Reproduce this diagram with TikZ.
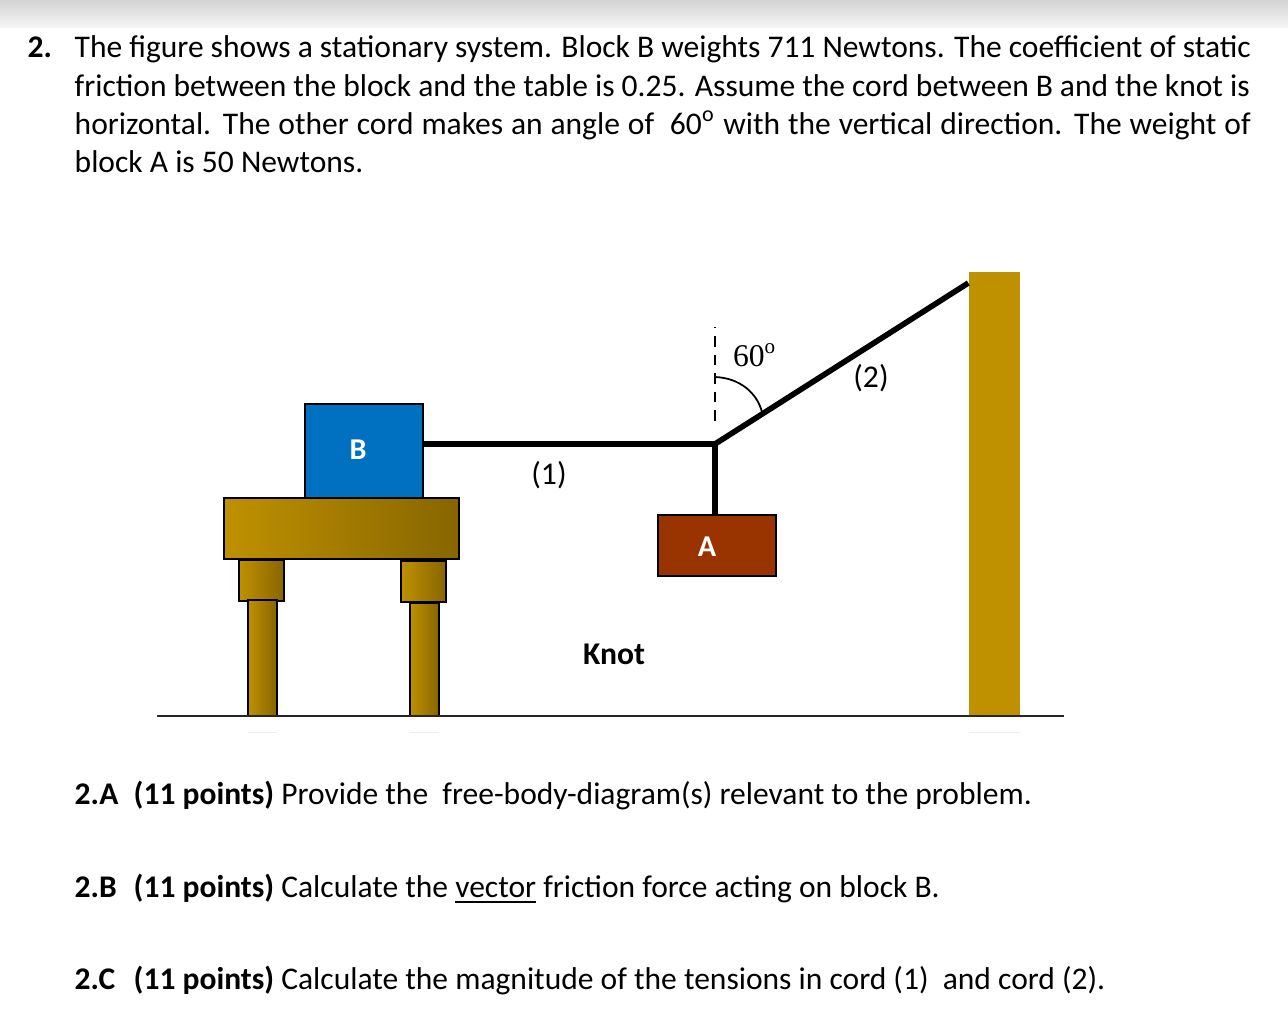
\documentclass[tikz,border=0pt]{standalone}
\usepackage{fontspec}
\setmainfont{Carlito}
\newfontfamily\anglefont{Liberation Serif}

\begin{document}
\begin{tikzpicture}[
    wood/.style={draw=black, line width=0.6pt, inner sep=0pt, left color=tab_gold, middle color=tab_mid, right color=tab_dark},
    block/.style={draw=black, line width=0.5pt, inner sep=0pt, minimum width=1.18cm},
    cord/.style={line width=1.6pt, line join=round},
    problemline/.style={anchor=base west, inner sep=0pt, font=\fontsize{8.97}{11}\selectfont},
    blocklabel/.style={inner sep=0pt, text=white, font=\fontsize{8.6}{10}\selectfont\bfseries},
    cordlabel/.style={inner sep=0pt, font=\fontsize{9}{11}\selectfont},
    ]
    \definecolor{tab_gold}{HTML}{bf9000}
    \definecolor{tab_mid}{HTML}{b08500}
    \definecolor{tab_dark}{HTML}{876600}
    \definecolor{tab_blue}{HTML}{0070c0}
    \definecolor{tab_brown}{HTML}{993300}
    %\draw[help lines] (0,0) grid (13,10);
    \useasboundingbox (0,0) rectangle (12.88,10.24);
    \path[top color=black!17, bottom color=black!4] (0,9.96) rectangle (12.88,10.24);

    % text of the problem
    \node[problemline] (num2) at (0.27,9.66) {\textbf{2.}};
    \node[problemline] (line1) at (0.74,9.66) {\makebox[11.76cm][s]{The figure shows a stationary system. Block B weights 711 Newtons. The coefficient of static}};
    \node[problemline] (line2) at (0.74,9.27) {\makebox[11.75cm][s]{friction between the block and the table is 0.25. Assume the cord between B and the knot is}};
    \node[problemline] (line3) at (0.74,8.89) {\makebox[11.76cm][s]{horizontal. The other cord makes an angle of \ 60\textsuperscript{o} with the vertical direction. The weight of}};
    \node[problemline] (line4) at (0.74,8.51) {block A is 50 Newtons.};

    % table, wall and ground
    \node[wood, minimum width=0.45cm, minimum height=0.41cm] (collarL) at (2.615,4.435) {};
    \node[wood, minimum width=0.45cm, minimum height=0.41cm] (collarR) at (4.235,4.425) {};
    \node[wood, minimum width=0.29cm, minimum height=1.16cm] (legL) at (2.625,3.66) {};
    \node[wood, minimum width=0.29cm, minimum height=1.13cm] (legR) at (4.245,3.645) {};
    \node[wood, minimum width=2.35cm, minimum height=0.61cm] (table) at (3.415,4.955) {};
    \node[fill=tab_gold, inner sep=0pt, minimum width=0.51cm, minimum height=4.44cm] (wall) at (9.945,5.30) {};
    \coordinate (groundL) at (1.57,3.08);
    \coordinate (groundR) at (10.64,3.08);
    \draw[line width=0.5pt, black!85] (groundL) -- (groundR);
    \foreach \xa/\xb in {2.48/2.77, 4.10/4.39, 9.69/10.20}
        \path[fill=black!7] (\xa,2.91) rectangle (\xb,2.925);

    % blocks
    \node[block, fill=tab_blue, minimum height=0.94cm] (blockB) at (3.64,5.73) {};
    \node[block, fill=tab_brown, minimum height=0.61cm] (blockA) at (7.17,4.785) {};
    \node[blocklabel] (labelB) at (3.58,5.74) {B};
    \node[blocklabel] (labelA) at (7.07,4.77) {A};

    % cords
    \coordinate (knot) at (7.15,5.80);
    \coordinate (wallpoint) at (wall.west |- 0,7.41);
    \draw[cord] (blockB.east |- knot) -- (knot);
    \draw[cord] (knot) -- (knot |- blockA.north);
    \draw[cord] (knot) -- (wallpoint);

    % angle
    \coordinate (vertical) at (7.15,6.97);
    \coordinate (verticalend) at (7.15,6.03);
    \coordinate (arcstart) at (7.15,6.47);
    \coordinate (arcend) at (7.62,6.12);
    \draw[line width=0.6pt, dash pattern=on 3pt off 2.27pt] (verticalend) -- (vertical);
    \draw[line width=0.5pt] (arcstart) .. controls (7.40,6.46) and (7.57,6.31) .. (arcend);
    \node[cordlabel] (angle) at (7.55,6.69) {\anglefont 60\textsuperscript{o}};

    \node[cordlabel] (cord1) at (5.49,5.49) {(1)};
    \node[cordlabel] (cord2) at (8.71,6.46) {(2)};
    \node[cordlabel, font=\fontsize{9}{11}\selectfont\bfseries] (knotlabel) at (6.14,3.70) {Knot};

    % questions
    \node[problemline] (partA) at (0.74,2.20) {\textbf{\makebox[0.59cm][l]{2.A}(11 points)} Provide the \ free-body-diagram(s) relevant to the problem.};
    \node[problemline] (partB) at (0.74,1.27) {\textbf{\makebox[0.59cm][l]{2.B}(11 points)} Calculate the \underline{vector} friction force acting on block B.};
    \node[problemline] (partC) at (0.74,0.35) {\textbf{\makebox[0.59cm][l]{2.C}(11 points)} Calculate the magnitude of the tensions in cord (1) \ and cord (2).};
\end{tikzpicture}
\end{document}
